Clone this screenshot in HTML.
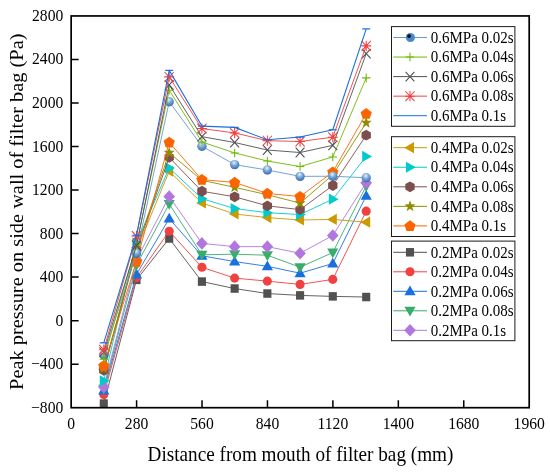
<!DOCTYPE html><html><head><meta charset="utf-8"><title>Peak pressure on side wall of filter bag</title><style>html,body{margin:0;padding:0;background:#fff}svg{display:block}text{font-family:"Liberation Serif","Times New Roman",serif;fill:#000}</style></head><body>
<svg width="550" height="473" viewBox="0 0 550 473">
<defs><radialGradient id="sph" cx="0.45" cy="0.3" r="0.68"><stop offset="0" stop-color="#f4f8fc"/><stop offset="0.18" stop-color="#bcd2ea"/><stop offset="0.5" stop-color="#74a2d4"/><stop offset="0.8" stop-color="#4f85c4"/><stop offset="1" stop-color="#3a6aa6"/></radialGradient></defs>
<rect width="550" height="473" fill="#fff"/>
<polyline points="103.77,403.56 136.49,279.84 169.20,238.49 201.92,281.58 234.64,288.54 267.36,293.55 300.08,295.40 332.79,296.38 366.21,297.03" fill="none" stroke="#515151" stroke-width="0.9" stroke-linejoin="round"/>
<rect x="99.72" y="399.31" width="8.10" height="8.50" fill="#515151"/>
<rect x="132.44" y="275.59" width="8.10" height="8.50" fill="#515151"/>
<rect x="165.15" y="234.24" width="8.10" height="8.50" fill="#515151"/>
<rect x="197.87" y="277.33" width="8.10" height="8.50" fill="#515151"/>
<rect x="230.59" y="284.29" width="8.10" height="8.50" fill="#515151"/>
<rect x="263.31" y="289.30" width="8.10" height="8.50" fill="#515151"/>
<rect x="296.03" y="291.15" width="8.10" height="8.50" fill="#515151"/>
<rect x="328.74" y="292.13" width="8.10" height="8.50" fill="#515151"/>
<rect x="362.16" y="292.78" width="8.10" height="8.50" fill="#515151"/>
<polyline points="103.77,394.42 136.49,277.66 169.20,231.19 201.92,267.32 234.64,278.10 267.36,281.14 300.08,284.41 332.79,279.40 366.21,211.17" fill="none" stroke="#F14040" stroke-width="0.9" stroke-linejoin="round"/>
<circle cx="103.77" cy="394.42" r="4.55" fill="#F14040"/>
<circle cx="136.49" cy="277.66" r="4.55" fill="#F14040"/>
<circle cx="169.20" cy="231.19" r="4.55" fill="#F14040"/>
<circle cx="201.92" cy="267.32" r="4.55" fill="#F14040"/>
<circle cx="234.64" cy="278.10" r="4.55" fill="#F14040"/>
<circle cx="267.36" cy="281.14" r="4.55" fill="#F14040"/>
<circle cx="300.08" cy="284.41" r="4.55" fill="#F14040"/>
<circle cx="332.79" cy="279.40" r="4.55" fill="#F14040"/>
<circle cx="366.21" cy="211.17" r="4.55" fill="#F14040"/>
<polyline points="103.77,390.40 136.49,274.40 169.20,218.57 201.92,255.79 234.64,261.56 267.36,266.34 300.08,273.20 332.79,263.51 366.21,195.72" fill="none" stroke="#1A6FDF" stroke-width="0.9" stroke-linejoin="round"/>
<polygon points="103.77,384.60 109.37,394.40 98.17,394.40" fill="#1A6FDF"/>
<polygon points="136.49,268.60 142.09,278.40 130.89,278.40" fill="#1A6FDF"/>
<polygon points="169.20,212.77 174.80,222.57 163.60,222.57" fill="#1A6FDF"/>
<polygon points="201.92,249.99 207.52,259.79 196.32,259.79" fill="#1A6FDF"/>
<polygon points="234.64,255.76 240.24,265.56 229.04,265.56" fill="#1A6FDF"/>
<polygon points="267.36,260.54 272.96,270.34 261.76,270.34" fill="#1A6FDF"/>
<polygon points="300.08,267.40 305.68,277.20 294.48,277.20" fill="#1A6FDF"/>
<polygon points="332.79,257.71 338.39,267.51 327.19,267.51" fill="#1A6FDF"/>
<polygon points="366.21,189.92 371.81,199.72 360.61,199.72" fill="#1A6FDF"/>
<polyline points="103.77,388.66 136.49,265.04 169.20,203.99 201.92,254.81 234.64,254.16 267.36,255.24 300.08,267.21 332.79,252.52 366.21,185.93" fill="none" stroke="#37AD6B" stroke-width="0.9" stroke-linejoin="round"/>
<polygon points="103.77,394.46 109.37,384.66 98.17,384.66" fill="#37AD6B"/>
<polygon points="136.49,270.84 142.09,261.04 130.89,261.04" fill="#37AD6B"/>
<polygon points="169.20,209.79 174.80,199.99 163.60,199.99" fill="#37AD6B"/>
<polygon points="201.92,260.61 207.52,250.81 196.32,250.81" fill="#37AD6B"/>
<polygon points="234.64,259.96 240.24,250.16 229.04,250.16" fill="#37AD6B"/>
<polygon points="267.36,261.04 272.96,251.24 261.76,251.24" fill="#37AD6B"/>
<polygon points="300.08,273.01 305.68,263.21 294.48,263.21" fill="#37AD6B"/>
<polygon points="332.79,258.32 338.39,248.52 327.19,248.52" fill="#37AD6B"/>
<polygon points="366.21,191.73 371.81,181.93 360.61,181.93" fill="#37AD6B"/>
<polyline points="103.77,387.02 136.49,259.71 169.20,196.59 201.92,243.38 234.64,246.65 267.36,246.65 300.08,253.29 332.79,235.44 366.21,182.66" fill="none" stroke="#B177DE" stroke-width="0.9" stroke-linejoin="round"/>
<polygon points="103.77,380.72 109.57,387.02 103.77,393.32 97.97,387.02" fill="#B177DE"/>
<polygon points="136.49,253.41 142.29,259.71 136.49,266.01 130.69,259.71" fill="#B177DE"/>
<polygon points="169.20,190.29 175.00,196.59 169.20,202.89 163.40,196.59" fill="#B177DE"/>
<polygon points="201.92,237.08 207.72,243.38 201.92,249.68 196.12,243.38" fill="#B177DE"/>
<polygon points="234.64,240.35 240.44,246.65 234.64,252.95 228.84,246.65" fill="#B177DE"/>
<polygon points="267.36,240.35 273.16,246.65 267.36,252.95 261.56,246.65" fill="#B177DE"/>
<polygon points="300.08,246.99 305.88,253.29 300.08,259.59 294.28,253.29" fill="#B177DE"/>
<polygon points="332.79,229.14 338.59,235.44 332.79,241.74 326.99,235.44" fill="#B177DE"/>
<polygon points="366.21,176.36 372.01,182.66 366.21,188.96 360.41,182.66" fill="#B177DE"/>
<polyline points="103.77,369.61 136.49,250.46 169.20,171.13 201.92,203.01 234.64,214.00 267.36,217.59 300.08,219.99 332.79,219.44 366.21,222.16" fill="none" stroke="#CC9900" stroke-width="0.9" stroke-linejoin="round"/>
<polygon points="97.97,369.61 107.77,364.01 107.77,375.21" fill="#CC9900"/>
<polygon points="130.69,250.46 140.49,244.86 140.49,256.06" fill="#CC9900"/>
<polygon points="163.40,171.13 173.20,165.53 173.20,176.73" fill="#CC9900"/>
<polygon points="196.12,203.01 205.92,197.41 205.92,208.61" fill="#CC9900"/>
<polygon points="228.84,214.00 238.64,208.40 238.64,219.60" fill="#CC9900"/>
<polygon points="261.56,217.59 271.36,211.99 271.36,223.19" fill="#CC9900"/>
<polygon points="294.28,219.99 304.08,214.39 304.08,225.59" fill="#CC9900"/>
<polygon points="326.99,219.44 336.79,213.84 336.79,225.04" fill="#CC9900"/>
<polygon points="360.41,222.16 370.21,216.56 370.21,227.76" fill="#CC9900"/>
<polyline points="103.77,380.82 136.49,242.84 169.20,167.97 201.92,198.66 234.64,208.56 267.36,212.70 300.08,214.55 332.79,199.20 366.21,156.44" fill="none" stroke="#00CBCC" stroke-width="0.9" stroke-linejoin="round"/>
<polygon points="109.57,380.82 99.77,375.22 99.77,386.42" fill="#00CBCC"/>
<polygon points="142.29,242.84 132.49,237.24 132.49,248.44" fill="#00CBCC"/>
<polygon points="175.00,167.97 165.20,162.37 165.20,173.57" fill="#00CBCC"/>
<polygon points="207.72,198.66 197.92,193.06 197.92,204.26" fill="#00CBCC"/>
<polygon points="240.44,208.56 230.64,202.96 230.64,214.16" fill="#00CBCC"/>
<polygon points="273.16,212.70 263.36,207.10 263.36,218.30" fill="#00CBCC"/>
<polygon points="305.88,214.55 296.08,208.95 296.08,220.15" fill="#00CBCC"/>
<polygon points="338.59,199.20 328.79,193.60 328.79,204.80" fill="#00CBCC"/>
<polygon points="372.01,156.44 362.21,150.84 362.21,162.04" fill="#00CBCC"/>
<polyline points="103.77,370.27 136.49,249.91 169.20,157.42 201.92,191.26 234.64,196.81 267.36,205.84 300.08,209.65 332.79,185.49 366.21,135.22" fill="none" stroke="#7D4E4E" stroke-width="0.9" stroke-linejoin="round"/>
<polygon points="103.77,375.67 99.09,372.97 99.09,367.57 103.77,364.87 108.44,367.57 108.44,372.97" fill="#7D4E4E"/>
<polygon points="136.49,255.31 131.81,252.61 131.81,247.21 136.49,244.51 141.16,247.21 141.16,252.61" fill="#7D4E4E"/>
<polygon points="169.20,162.82 164.53,160.12 164.53,154.72 169.20,152.02 173.88,154.72 173.88,160.12" fill="#7D4E4E"/>
<polygon points="201.92,196.66 197.24,193.96 197.24,188.56 201.92,185.86 206.60,188.56 206.60,193.96" fill="#7D4E4E"/>
<polygon points="234.64,202.21 229.96,199.51 229.96,194.11 234.64,191.41 239.32,194.11 239.32,199.51" fill="#7D4E4E"/>
<polygon points="267.36,211.24 262.68,208.54 262.68,203.14 267.36,200.44 272.03,203.14 272.03,208.54" fill="#7D4E4E"/>
<polygon points="300.08,215.05 295.40,212.35 295.40,206.95 300.08,204.25 304.75,206.95 304.75,212.35" fill="#7D4E4E"/>
<polygon points="332.79,190.89 328.12,188.19 328.12,182.79 332.79,180.09 337.47,182.79 337.47,188.19" fill="#7D4E4E"/>
<polygon points="366.21,140.62 361.54,137.92 361.54,132.52 366.21,129.82 370.89,132.52 370.89,137.92" fill="#7D4E4E"/>
<polyline points="103.77,368.52 136.49,248.82 169.20,152.74 201.92,180.27 234.64,187.34 267.36,194.74 300.08,203.12 332.79,174.83 366.21,122.70" fill="none" stroke="#8E8E00" stroke-width="0.9" stroke-linejoin="round"/>
<polygon points="103.77,362.44 105.18,366.49 109.28,366.64 106.05,369.30 107.18,373.45 103.77,371.04 100.36,373.45 101.49,369.30 98.25,366.64 102.36,366.49" fill="#8E8E00"/>
<polygon points="136.49,242.73 137.90,246.78 142.00,246.94 138.77,249.60 139.89,253.75 136.49,251.34 133.08,253.75 134.20,249.60 130.97,246.94 135.08,246.78" fill="#8E8E00"/>
<polygon points="169.20,146.65 170.61,150.70 174.72,150.85 171.49,153.51 172.61,157.66 169.20,155.26 165.79,157.66 166.92,153.51 163.69,150.85 167.79,150.70" fill="#8E8E00"/>
<polygon points="201.92,174.18 203.33,178.23 207.44,178.39 204.20,181.05 205.33,185.19 201.92,182.79 198.51,185.19 199.64,181.05 196.41,178.39 200.51,178.23" fill="#8E8E00"/>
<polygon points="234.64,181.25 236.05,185.30 240.16,185.46 236.92,188.12 238.05,192.27 234.64,189.86 231.23,192.27 232.36,188.12 229.12,185.46 233.23,185.30" fill="#8E8E00"/>
<polygon points="267.36,188.65 268.77,192.70 272.87,192.86 269.64,195.52 270.77,199.67 267.36,197.26 263.95,199.67 265.07,195.52 261.84,192.86 265.95,192.70" fill="#8E8E00"/>
<polygon points="300.08,197.03 301.49,201.08 305.59,201.24 302.36,203.90 303.48,208.05 300.08,205.64 296.67,208.05 297.79,203.90 294.56,201.24 298.66,201.08" fill="#8E8E00"/>
<polygon points="332.79,168.74 334.20,172.79 338.31,172.94 335.08,175.61 336.20,179.75 332.79,177.35 329.38,179.75 330.51,175.61 327.28,172.94 331.38,172.79" fill="#8E8E00"/>
<polygon points="366.21,116.61 367.62,120.66 371.73,120.82 368.49,123.48 369.62,127.63 366.21,125.22 362.80,127.63 363.93,123.48 360.70,120.82 364.80,120.66" fill="#8E8E00"/>
<polyline points="103.77,365.70 136.49,261.56 169.20,142.40 201.92,179.61 234.64,182.44 267.36,193.43 300.08,196.59 332.79,172.00 366.21,113.67" fill="none" stroke="#FB6501" stroke-width="0.9" stroke-linejoin="round"/>
<polygon points="103.77,360.10 109.38,364.17 107.24,370.77 100.30,370.77 98.16,364.17" fill="#FB6501"/>
<polygon points="136.49,255.96 142.10,260.03 139.95,266.63 133.02,266.63 130.87,260.03" fill="#FB6501"/>
<polygon points="169.20,136.80 174.81,140.87 172.67,147.47 165.74,147.47 163.59,140.87" fill="#FB6501"/>
<polygon points="201.92,174.01 207.53,178.09 205.39,184.69 198.45,184.69 196.31,178.09" fill="#FB6501"/>
<polygon points="234.64,176.84 240.25,180.92 238.11,187.52 231.17,187.52 229.03,180.92" fill="#FB6501"/>
<polygon points="267.36,187.83 272.97,191.91 270.83,198.51 263.89,198.51 261.75,191.91" fill="#FB6501"/>
<polygon points="300.08,190.99 305.69,195.07 303.54,201.66 296.61,201.66 294.46,195.07" fill="#FB6501"/>
<polygon points="332.79,166.40 338.40,170.47 336.26,177.07 329.32,177.07 327.18,170.47" fill="#FB6501"/>
<polygon points="366.21,108.07 371.82,112.15 369.68,118.74 362.74,118.74 360.60,112.15" fill="#FB6501"/>
<polyline points="103.77,354.92 136.49,253.18 169.20,101.70 201.92,146.21 234.64,164.60 267.36,170.04 300.08,176.35 332.79,176.24 366.21,177.76" fill="none" stroke="#6699CC" stroke-width="0.9" stroke-linejoin="round"/>
<circle cx="103.77" cy="354.92" r="4.7" fill="url(#sph)"/>
<circle cx="136.49" cy="253.18" r="4.7" fill="url(#sph)"/>
<circle cx="169.20" cy="101.70" r="4.7" fill="url(#sph)"/>
<circle cx="201.92" cy="146.21" r="4.7" fill="url(#sph)"/>
<circle cx="234.64" cy="164.60" r="4.7" fill="url(#sph)"/>
<circle cx="267.36" cy="170.04" r="4.7" fill="url(#sph)"/>
<circle cx="300.08" cy="176.35" r="4.7" fill="url(#sph)"/>
<circle cx="332.79" cy="176.24" r="4.7" fill="url(#sph)"/>
<circle cx="366.21" cy="177.76" r="4.7" fill="url(#sph)"/>
<polyline points="103.77,359.28 136.49,244.47 169.20,90.16 201.92,141.96 234.64,152.95 267.36,161.01 300.08,166.56 332.79,156.98 366.21,77.87" fill="none" stroke="#6FB802" stroke-width="0.9" stroke-linejoin="round"/>
<path d="M99.57 359.28h8.4M103.77 354.98v8.6" stroke="#6FB802" stroke-width="1.05" fill="none"/>
<path d="M132.29 244.47h8.4M136.49 240.17v8.6" stroke="#6FB802" stroke-width="1.05" fill="none"/>
<path d="M165.00 90.16h8.4M169.20 85.86v8.6" stroke="#6FB802" stroke-width="1.05" fill="none"/>
<path d="M197.72 141.96h8.4M201.92 137.66v8.6" stroke="#6FB802" stroke-width="1.05" fill="none"/>
<path d="M230.44 152.95h8.4M234.64 148.65v8.6" stroke="#6FB802" stroke-width="1.05" fill="none"/>
<path d="M263.16 161.01h8.4M267.36 156.71v8.6" stroke="#6FB802" stroke-width="1.05" fill="none"/>
<path d="M295.88 166.56h8.4M300.08 162.26v8.6" stroke="#6FB802" stroke-width="1.05" fill="none"/>
<path d="M328.59 156.98h8.4M332.79 152.68v8.6" stroke="#6FB802" stroke-width="1.05" fill="none"/>
<path d="M362.01 77.87h8.4M366.21 73.57v8.6" stroke="#6FB802" stroke-width="1.05" fill="none"/>
<polyline points="103.77,352.20 136.49,245.56 169.20,84.83 201.92,136.63 234.64,142.51 267.36,150.02 300.08,152.52 332.79,145.34 366.21,53.60" fill="none" stroke="#515151" stroke-width="0.9" stroke-linejoin="round"/>
<path d="M99.37 347.40L108.17 357.00M99.37 357.00L108.17 347.40" stroke="#515151" stroke-width="1.1" fill="none"/>
<path d="M132.09 240.76L140.89 250.36M132.09 250.36L140.89 240.76" stroke="#515151" stroke-width="1.1" fill="none"/>
<path d="M164.80 80.03L173.60 89.63M164.80 89.63L173.60 80.03" stroke="#515151" stroke-width="1.1" fill="none"/>
<path d="M197.52 131.83L206.32 141.43M197.52 141.43L206.32 131.83" stroke="#515151" stroke-width="1.1" fill="none"/>
<path d="M230.24 137.71L239.04 147.31M230.24 147.31L239.04 137.71" stroke="#515151" stroke-width="1.1" fill="none"/>
<path d="M262.96 145.22L271.76 154.82M262.96 154.82L271.76 145.22" stroke="#515151" stroke-width="1.1" fill="none"/>
<path d="M295.68 147.72L304.48 157.32M295.68 157.32L304.48 147.72" stroke="#515151" stroke-width="1.1" fill="none"/>
<path d="M328.39 140.54L337.19 150.14M328.39 150.14L337.19 140.54" stroke="#515151" stroke-width="1.1" fill="none"/>
<path d="M361.81 48.80L370.61 58.40M361.81 58.40L370.61 48.80" stroke="#515151" stroke-width="1.1" fill="none"/>
<polyline points="103.77,349.70 136.49,235.98 169.20,76.89 201.92,128.58 234.64,132.93 267.36,140.66 300.08,141.53 332.79,137.17 366.21,45.88" fill="none" stroke="#F14040" stroke-width="0.9" stroke-linejoin="round"/>
<path d="M99.17 344.80L108.37 354.60M99.17 354.60L108.37 344.80M98.77 349.70h10M103.77 344.50v10.4" stroke="#F14040" stroke-width="1.05" fill="none"/>
<path d="M131.89 231.08L141.09 240.88M131.89 240.88L141.09 231.08M131.49 235.98h10M136.49 230.78v10.4" stroke="#F14040" stroke-width="1.05" fill="none"/>
<path d="M164.60 71.99L173.80 81.79M164.60 81.79L173.80 71.99M164.20 76.89h10M169.20 71.69v10.4" stroke="#F14040" stroke-width="1.05" fill="none"/>
<path d="M197.32 123.68L206.52 133.48M197.32 133.48L206.52 123.68M196.92 128.58h10M201.92 123.38v10.4" stroke="#F14040" stroke-width="1.05" fill="none"/>
<path d="M230.04 128.03L239.24 137.83M230.04 137.83L239.24 128.03M229.64 132.93h10M234.64 127.73v10.4" stroke="#F14040" stroke-width="1.05" fill="none"/>
<path d="M262.76 135.76L271.96 145.56M262.76 145.56L271.96 135.76M262.36 140.66h10M267.36 135.46v10.4" stroke="#F14040" stroke-width="1.05" fill="none"/>
<path d="M295.48 136.63L304.68 146.43M295.48 146.43L304.68 136.63M295.08 141.53h10M300.08 136.33v10.4" stroke="#F14040" stroke-width="1.05" fill="none"/>
<path d="M328.19 132.27L337.39 142.07M328.19 142.07L337.39 132.27M327.79 137.17h10M332.79 131.97v10.4" stroke="#F14040" stroke-width="1.05" fill="none"/>
<path d="M361.61 40.98L370.81 50.78M361.61 50.78L370.81 40.98M361.21 45.88h10M366.21 40.68v10.4" stroke="#F14040" stroke-width="1.05" fill="none"/>
<polyline points="103.77,342.84 136.49,235.22 169.20,70.36 201.92,126.08 234.64,127.38 267.36,139.79 300.08,137.07 332.79,129.78 366.21,28.90" fill="none" stroke="#1A6FDF" stroke-width="1.1" stroke-linejoin="round"/>
<path d="M99.77 342.84h8" stroke="#1A6FDF" stroke-width="1.2" fill="none"/>
<path d="M132.49 235.22h8" stroke="#1A6FDF" stroke-width="1.2" fill="none"/>
<path d="M165.20 70.36h8" stroke="#1A6FDF" stroke-width="1.2" fill="none"/>
<path d="M197.92 126.08h8" stroke="#1A6FDF" stroke-width="1.2" fill="none"/>
<path d="M230.64 127.38h8" stroke="#1A6FDF" stroke-width="1.2" fill="none"/>
<path d="M263.36 139.79h8" stroke="#1A6FDF" stroke-width="1.2" fill="none"/>
<path d="M296.08 137.07h8" stroke="#1A6FDF" stroke-width="1.2" fill="none"/>
<path d="M328.79 129.78h8" stroke="#1A6FDF" stroke-width="1.2" fill="none"/>
<path d="M362.21 28.90h8" stroke="#1A6FDF" stroke-width="1.2" fill="none"/>
<rect x="71.15" y="15.95" width="458.05" height="391.75" fill="none" stroke="#000" stroke-width="1.7"/>
<path d="M136.59 407.70v-7.5M202.02 407.70v-7.5M267.46 407.70v-7.5M332.89 407.70v-7.5M398.33 407.70v-7.5M463.76 407.70v-7.5M71.15 364.17h7.5M71.15 320.64h7.5M71.15 277.12h7.5M71.15 233.59h7.5M71.15 190.06h7.5M71.15 146.53h7.5M71.15 103.01h7.5M71.15 59.48h7.5" stroke="#000" stroke-width="1.5" fill="none"/>
<text transform="translate(71.15 428.60) scale(1 1.035)" font-size="15.65" text-anchor="middle">0</text>
<text transform="translate(136.59 428.60) scale(1 1.035)" font-size="15.65" text-anchor="middle">280</text>
<text transform="translate(202.02 428.60) scale(1 1.035)" font-size="15.65" text-anchor="middle">560</text>
<text transform="translate(267.46 428.60) scale(1 1.035)" font-size="15.65" text-anchor="middle">840</text>
<text transform="translate(332.89 428.60) scale(1 1.035)" font-size="15.65" text-anchor="middle">1120</text>
<text transform="translate(398.33 428.60) scale(1 1.035)" font-size="15.65" text-anchor="middle">1400</text>
<text transform="translate(463.76 428.60) scale(1 1.035)" font-size="15.65" text-anchor="middle">1680</text>
<text transform="translate(529.20 428.60) scale(1 1.035)" font-size="15.65" text-anchor="middle">1960</text>
<text transform="translate(63.30 412.70) scale(1 1.035)" font-size="15.65" text-anchor="end">−800</text>
<text transform="translate(63.30 369.17) scale(1 1.035)" font-size="15.65" text-anchor="end">−400</text>
<text transform="translate(63.30 325.64) scale(1 1.035)" font-size="15.65" text-anchor="end">0</text>
<text transform="translate(63.30 282.12) scale(1 1.035)" font-size="15.65" text-anchor="end">400</text>
<text transform="translate(63.30 238.59) scale(1 1.035)" font-size="15.65" text-anchor="end">800</text>
<text transform="translate(63.30 195.06) scale(1 1.035)" font-size="15.65" text-anchor="end">1200</text>
<text transform="translate(63.30 151.53) scale(1 1.035)" font-size="15.65" text-anchor="end">1600</text>
<text transform="translate(63.30 108.01) scale(1 1.035)" font-size="15.65" text-anchor="end">2000</text>
<text transform="translate(63.30 64.48) scale(1 1.035)" font-size="15.65" text-anchor="end">2400</text>
<text transform="translate(63.30 20.95) scale(1 1.035)" font-size="15.65" text-anchor="end">2800</text>
<text transform="translate(300.50 461.40) scale(1 1.060)" font-size="19.20" text-anchor="middle">Distance from mouth of filter bag (mm)</text>
<text transform="translate(22.9 211.7) rotate(-90) scale(1.035 1)" font-size="19.7" text-anchor="middle">Peak pressure on side wall of filter bag (Pa)</text>
<rect x="391.5" y="26.60" width="123.4" height="99.70" fill="#fff" stroke="#1a1a1a" stroke-width="1"/>
<path d="M393.3 37.50h33.7" stroke="#6699CC" stroke-width="1" fill="none"/>
<circle cx="410.40" cy="37.50" r="4.55" fill="#4a88cc"/><circle cx="409.10" cy="36.10" r="1.9" fill="#05070f"/>
<text transform="translate(430.80 42.70) scale(1 1.060)" font-size="15.00" text-anchor="start">0.6MPa 0.02s</text>
<path d="M393.3 57.05h33.7" stroke="#6FB802" stroke-width="1" fill="none"/>
<path d="M405.80 57.05h8.4M410.00 52.75v8.6" stroke="#6FB802" stroke-width="1.05" fill="none"/>
<text transform="translate(430.80 62.25) scale(1 1.060)" font-size="15.00" text-anchor="start">0.6MPa 0.04s</text>
<path d="M393.3 76.60h33.7" stroke="#515151" stroke-width="1" fill="none"/>
<path d="M405.60 71.80L414.40 81.40M405.60 81.40L414.40 71.80" stroke="#515151" stroke-width="1.1" fill="none"/>
<text transform="translate(430.80 81.80) scale(1 1.060)" font-size="15.00" text-anchor="start">0.6MPa 0.06s</text>
<path d="M393.3 96.15h33.7" stroke="#F14040" stroke-width="1" fill="none"/>
<path d="M405.40 91.25L414.60 101.05M405.40 101.05L414.60 91.25M405.00 96.15h10M410.00 90.95v10.4" stroke="#F14040" stroke-width="1.05" fill="none"/>
<text transform="translate(430.80 101.35) scale(1 1.060)" font-size="15.00" text-anchor="start">0.6MPa 0.08s</text>
<path d="M393.3 115.70h33.7" stroke="#1A6FDF" stroke-width="1" fill="none"/>

<text transform="translate(430.80 120.90) scale(1 1.060)" font-size="15.00" text-anchor="start">0.6MPa 0.1s</text>
<rect x="391.5" y="136.70" width="123.4" height="99.80" fill="#fff" stroke="#1a1a1a" stroke-width="1"/>
<path d="M393.3 147.70h33.7" stroke="#CC9900" stroke-width="1" fill="none"/>
<polygon points="404.20,147.70 414.00,142.10 414.00,153.30" fill="#CC9900"/>
<text transform="translate(430.80 152.90) scale(1 1.060)" font-size="15.00" text-anchor="start">0.4MPa 0.02s</text>
<path d="M393.3 167.25h33.7" stroke="#00CBCC" stroke-width="1" fill="none"/>
<polygon points="415.80,167.25 406.00,161.65 406.00,172.85" fill="#00CBCC"/>
<text transform="translate(430.80 172.45) scale(1 1.060)" font-size="15.00" text-anchor="start">0.4MPa 0.04s</text>
<path d="M393.3 186.80h33.7" stroke="#7D4E4E" stroke-width="1" fill="none"/>
<polygon points="410.00,192.20 405.32,189.50 405.32,184.10 410.00,181.40 414.68,184.10 414.68,189.50" fill="#7D4E4E"/>
<text transform="translate(430.80 192.00) scale(1 1.060)" font-size="15.00" text-anchor="start">0.4MPa 0.06s</text>
<path d="M393.3 206.35h33.7" stroke="#8E8E00" stroke-width="1" fill="none"/>
<polygon points="410.00,200.26 411.41,204.31 415.52,204.47 412.28,207.13 413.41,211.28 410.00,208.87 406.59,211.28 407.72,207.13 404.48,204.47 408.59,204.31" fill="#8E8E00"/>
<text transform="translate(430.80 211.55) scale(1 1.060)" font-size="15.00" text-anchor="start">0.4MPa 0.08s</text>
<path d="M393.3 225.90h33.7" stroke="#FB6501" stroke-width="1" fill="none"/>
<polygon points="410.00,220.30 415.61,224.38 413.47,230.97 406.53,230.97 404.39,224.38" fill="#FB6501"/>
<text transform="translate(430.80 231.10) scale(1 1.060)" font-size="15.00" text-anchor="start">0.4MPa 0.1s</text>
<rect x="391.5" y="241.10" width="123.4" height="99.60" fill="#fff" stroke="#1a1a1a" stroke-width="1"/>
<path d="M393.3 252.30h33.7" stroke="#515151" stroke-width="1" fill="none"/>
<rect x="405.95" y="248.05" width="8.10" height="8.50" fill="#515151"/>
<text transform="translate(430.80 257.50) scale(1 1.060)" font-size="15.00" text-anchor="start">0.2MPa 0.02s</text>
<path d="M393.3 271.80h33.7" stroke="#F14040" stroke-width="1" fill="none"/>
<circle cx="410.00" cy="271.80" r="4.55" fill="#F14040"/>
<text transform="translate(430.80 277.00) scale(1 1.060)" font-size="15.00" text-anchor="start">0.2MPa 0.04s</text>
<path d="M393.3 291.30h33.7" stroke="#1A6FDF" stroke-width="1" fill="none"/>
<polygon points="410.00,285.50 415.60,295.30 404.40,295.30" fill="#1A6FDF"/>
<text transform="translate(430.80 296.50) scale(1 1.060)" font-size="15.00" text-anchor="start">0.2MPa 0.06s</text>
<path d="M393.3 310.80h33.7" stroke="#37AD6B" stroke-width="1" fill="none"/>
<polygon points="410.00,316.60 415.60,306.80 404.40,306.80" fill="#37AD6B"/>
<text transform="translate(430.80 316.00) scale(1 1.060)" font-size="15.00" text-anchor="start">0.2MPa 0.08s</text>
<path d="M393.3 330.30h33.7" stroke="#B177DE" stroke-width="1" fill="none"/>
<polygon points="410.00,324.00 415.80,330.30 410.00,336.60 404.20,330.30" fill="#B177DE"/>
<text transform="translate(430.80 335.50) scale(1 1.060)" font-size="15.00" text-anchor="start">0.2MPa 0.1s</text>
</svg></body></html>
